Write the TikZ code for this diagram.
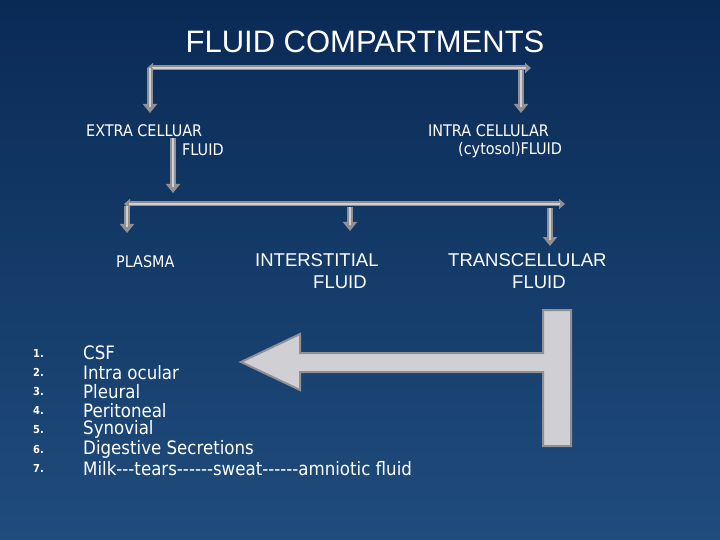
\documentclass[tikz,border=0pt]{standalone}
\usepackage{fontspec}
\setmainfont{Liberation Sans}
\newfontfamily\tah{DejaVu Sans Condensed}
\usetikzlibrary{arrows.meta}
\definecolor{bgA}{HTML}{0A2A56}
\definecolor{bgB}{HTML}{1F4C7C}
\definecolor{arrfill}{HTML}{D0D0D4}
\definecolor{arredge}{HTML}{909094}
\begin{document}
\begin{tikzpicture}[x=1pt,y=-1pt,
  txt/.style={text=white,inner sep=0pt,anchor=west},
  tah/.style={txt,font=\tah\fontsize{16}{18}\selectfont},
  ar/.style={txt,font=\fontsize{18.5}{20}\selectfont},
  blk/.style={draw=arredge,line width=6pt,-{Triangle[length=9pt,width=14pt]}},
  blki/.style={draw=arrfill,line width=2pt,shorten >=6pt},
  bar/.style={draw=arredge,line width=5pt,{Triangle[length=6pt,width=10pt]}-{Triangle[length=6pt,width=10pt]}},
  bari/.style={draw=arrfill,line width=1.5pt,shorten >=5pt,shorten <=5pt}]
\shade[left color=bgA,right color=bgB,shading angle=0] (0,0) rectangle (720,540);
\useasboundingbox (0,0) rectangle (720,540);
\node[txt,anchor=center,font=\fontsize{31}{34}\selectfont] (title) at (365,42) {FLUID COMPARTMENTS};
% top bar
\coordinate (t1) at (147,68); \coordinate (t2) at (531,68);
\draw[bar] (t1) -- (t2); \draw[bari] (t1) -- (t2);
\coordinate (a1) at (150,68); \coordinate (a1e) at (150,113);
\coordinate (a2) at (521,70); \coordinate (a2e) at (521,113);
\draw[blk] (a1) -- (a1e); \draw[blki] (a1) -- (a1e);
\draw[blk] (a2) -- (a2e); \draw[blki] (a2) -- (a2e);
\node[tah] (ecf1) at (86,131) {EXTRA CELLUAR};
\node[tah] (ecf2) at (182,150) {FLUID};
\node[tah] (icf1) at (428,131) {INTRA CELLULAR};
\node[tah] (icf2) at (458,150) {(cytosol)FLUID};
\coordinate (a3) at (173,138); \coordinate (a3e) at (173,193);
\draw[blk] (a3) -- (a3e); \draw[blki] (a3) -- (a3e);
% second bar
\coordinate (b1) at (124,204); \coordinate (b2) at (565,204);
\draw[bar] (b1) -- (b2); \draw[bari] (b1) -- (b2);
\coordinate (c1) at (127,206); \coordinate (c1e) at (127,233);
\coordinate (c2) at (350,207); \coordinate (c2e) at (350,231);
\coordinate (c3) at (550,208); \coordinate (c3e) at (550,246);
\draw[blk] (c1) -- (c1e); \draw[blki] (c1) -- (c1e);
\draw[blk] (c2) -- (c2e); \draw[blki] (c2) -- (c2e);
\draw[blk] (c3) -- (c3e); \draw[blki] (c3) -- (c3e);
\node[tah] (plasma) at (116,262) {PLASMA};
\node[ar] (is1) at (255,260) {INTERSTITIAL};
\node[ar] (is2) at (313,282) {FLUID};
\node[ar] (tc1) at (448,260) {TRANSCELLULAR};
\node[ar] (tc2) at (512,282) {FLUID};
% big block arrow
\filldraw[fill=arrfill,draw=arredge,line width=2pt]
  (543,310) -- (571,310) -- (571,446) -- (543,446) -- (543,372) -- (300,372) -- (300,390)
  -- (241,362) -- (300,334) -- (300,353) -- (543,353) -- cycle;
% list
\foreach \n/\t [count=\i from 0] in {1/CSF,2/Intra ocular,3/Pleural,4/Peritoneal,5/Synovial,6/Digestive Secretions,7/Milk---tears------sweat------amniotic fluid}{
  \node[txt,font=\tah\bfseries\fontsize{11}{12}\selectfont] (n\n) at (33,353+19.2*\i) {\n.};
  \node[txt,font=\tah\fontsize{18.5}{19}\selectfont] (l\n) at (83,353+19.2*\i) {\t};
}
\end{tikzpicture}
\end{document}
